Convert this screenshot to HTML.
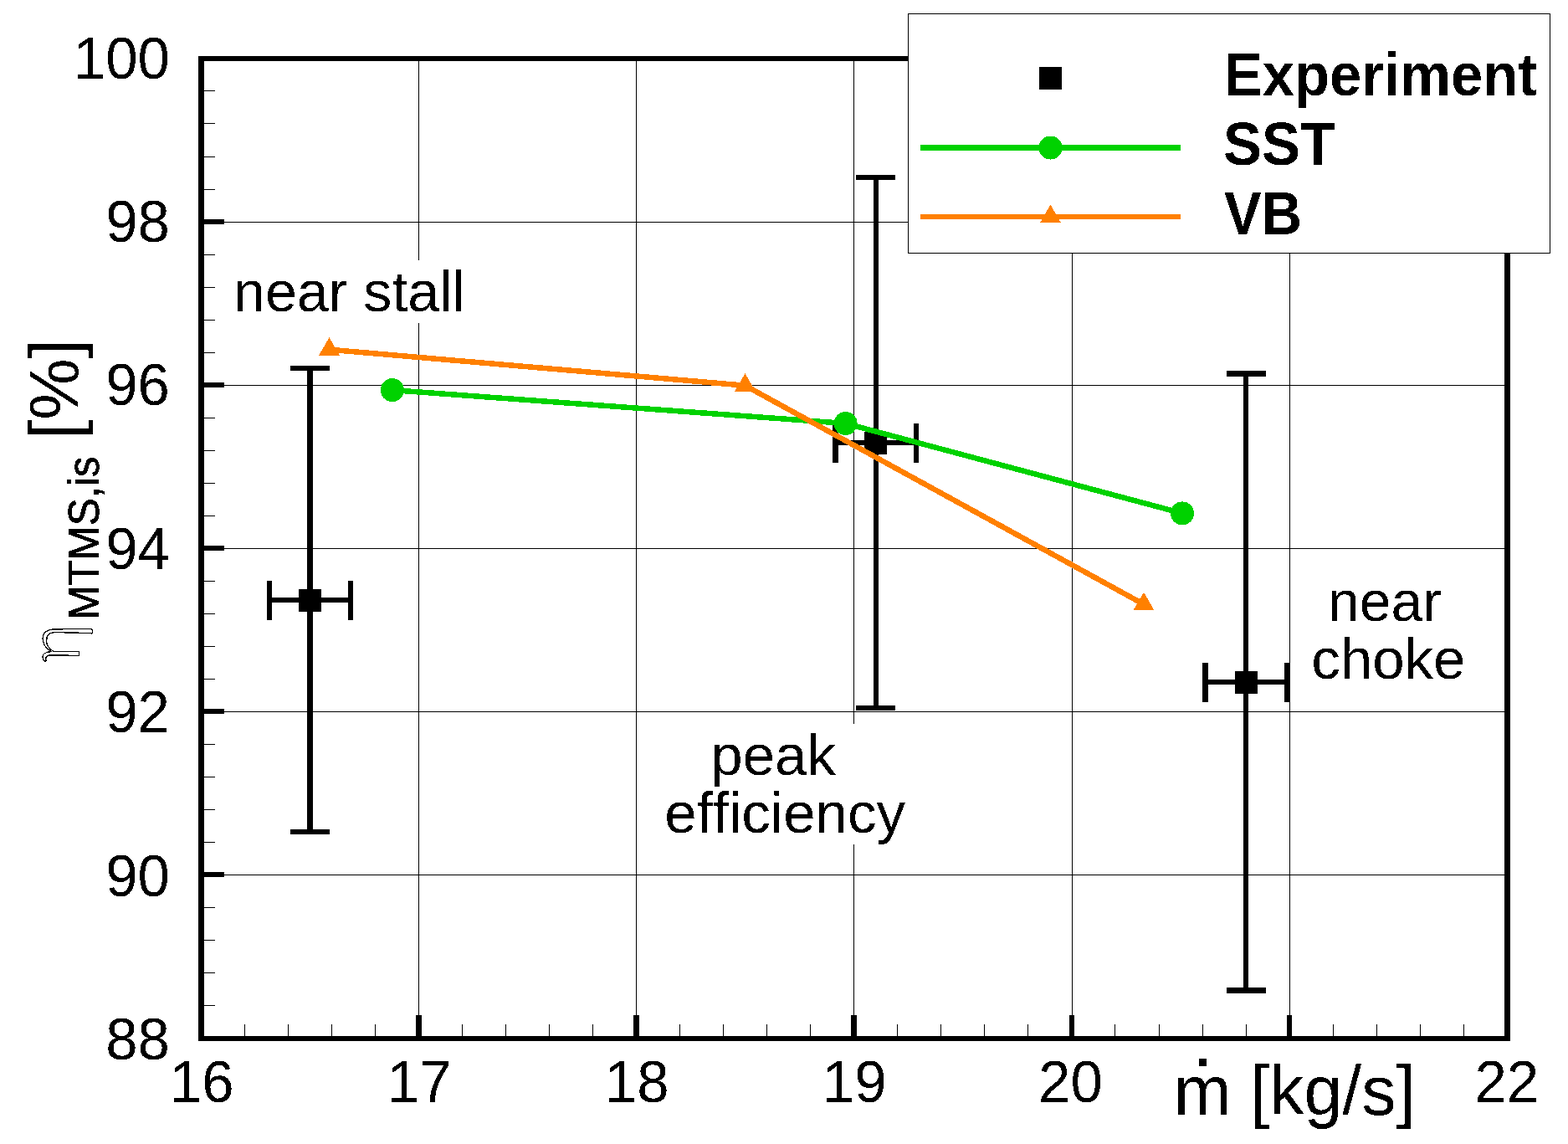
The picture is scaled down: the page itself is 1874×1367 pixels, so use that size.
<!DOCTYPE html>
<html lang="en"><head><meta charset="utf-8"><title>Isentropic efficiency over mass flow</title>
<style>html,body{margin:0;padding:0;background:#fff}body{width:1874px;height:1367px}svg{display:block}text{font-family:"Liberation Sans",sans-serif;fill:#000;font-kerning:none;font-variant-ligatures:none}.crisp{shape-rendering:crispEdges}</style></head><body>
<svg width="1874" height="1367" viewBox="0 0 1874 1367">
<defs><filter id="hard" x="0" y="0" width="1874" height="1367" filterUnits="userSpaceOnUse" color-interpolation-filters="sRGB"><feComponentTransfer><feFuncA type="discrete" tableValues="0 1"/></feComponentTransfer></filter><filter id="hard2" x="-0.2" y="-0.2" width="1.4" height="1.4" filterUnits="objectBoundingBox" color-interpolation-filters="sRGB"><feComponentTransfer><feFuncA type="discrete" tableValues="0 1 1"/></feComponentTransfer></filter></defs>
<rect width="1874" height="1367" fill="#fff"/>
<g class="crisp">
<rect x="500" y="73" width="1" height="1165" fill="#000"/>
<rect x="760" y="73" width="1" height="1165" fill="#000"/>
<rect x="1020" y="73" width="1" height="1165" fill="#000"/>
<rect x="1281" y="73" width="1" height="1165" fill="#000"/>
<rect x="1541" y="73" width="1" height="1165" fill="#000"/>
<rect x="244" y="265" width="1554" height="1" fill="#000"/>
<rect x="244" y="460" width="1554" height="1" fill="#000"/>
<rect x="244" y="655" width="1554" height="1" fill="#000"/>
<rect x="244" y="850" width="1554" height="1" fill="#000"/>
<rect x="244" y="1045" width="1554" height="1" fill="#000"/>
</g>
<g class="crisp">
<rect x="272" y="311" width="292" height="75" fill="#fff"/>
<rect x="786" y="865" width="308" height="144" fill="#fff"/>
<rect x="1560" y="681" width="200" height="144" fill="#fff"/>
</g>
<g class="crisp">
<rect x="237" y="67" width="1568" height="6" fill="#000"/>
<rect x="237" y="1238" width="1568" height="6" fill="#000"/>
<rect x="237" y="67" width="7" height="1177" fill="#000"/>
<rect x="1798" y="67" width="7" height="1177" fill="#000"/>
<rect x="497" y="1213" width="7" height="25" fill="#000"/>
<rect x="757" y="1213" width="7" height="25" fill="#000"/>
<rect x="1017" y="1213" width="7" height="25" fill="#000"/>
<rect x="1278" y="1213" width="6" height="25" fill="#000"/>
<rect x="1538" y="1213" width="6" height="25" fill="#000"/>
<rect x="292" y="1224" width="1" height="14" fill="#000"/>
<rect x="344" y="1224" width="1" height="14" fill="#000"/>
<rect x="396" y="1224" width="1" height="14" fill="#000"/>
<rect x="448" y="1224" width="1" height="14" fill="#000"/>
<rect x="552" y="1224" width="1" height="14" fill="#000"/>
<rect x="604" y="1224" width="1" height="14" fill="#000"/>
<rect x="656" y="1224" width="1" height="14" fill="#000"/>
<rect x="708" y="1224" width="1" height="14" fill="#000"/>
<rect x="812" y="1224" width="1" height="14" fill="#000"/>
<rect x="864" y="1224" width="1" height="14" fill="#000"/>
<rect x="916" y="1224" width="1" height="14" fill="#000"/>
<rect x="968" y="1224" width="1" height="14" fill="#000"/>
<rect x="1072" y="1224" width="1" height="14" fill="#000"/>
<rect x="1124" y="1224" width="1" height="14" fill="#000"/>
<rect x="1176" y="1224" width="1" height="14" fill="#000"/>
<rect x="1228" y="1224" width="1" height="14" fill="#000"/>
<rect x="1332" y="1224" width="1" height="14" fill="#000"/>
<rect x="1385" y="1224" width="1" height="14" fill="#000"/>
<rect x="1437" y="1224" width="1" height="14" fill="#000"/>
<rect x="1489" y="1224" width="1" height="14" fill="#000"/>
<rect x="1593" y="1224" width="1" height="14" fill="#000"/>
<rect x="1645" y="1224" width="1" height="14" fill="#000"/>
<rect x="1697" y="1224" width="1" height="14" fill="#000"/>
<rect x="1749" y="1224" width="1" height="14" fill="#000"/>
<rect x="244" y="262" width="24" height="6" fill="#000"/>
<rect x="244" y="457" width="24" height="6" fill="#000"/>
<rect x="244" y="652" width="24" height="6" fill="#000"/>
<rect x="244" y="847" width="24" height="6" fill="#000"/>
<rect x="244" y="1042" width="24" height="6" fill="#000"/>
<rect x="244" y="108" width="13" height="1" fill="#000"/>
<rect x="244" y="147" width="13" height="1" fill="#000"/>
<rect x="244" y="187" width="13" height="1" fill="#000"/>
<rect x="244" y="226" width="13" height="1" fill="#000"/>
<rect x="244" y="304" width="13" height="1" fill="#000"/>
<rect x="244" y="343" width="13" height="1" fill="#000"/>
<rect x="244" y="382" width="13" height="1" fill="#000"/>
<rect x="244" y="421" width="13" height="1" fill="#000"/>
<rect x="244" y="499" width="13" height="1" fill="#000"/>
<rect x="244" y="538" width="13" height="1" fill="#000"/>
<rect x="244" y="577" width="13" height="1" fill="#000"/>
<rect x="244" y="616" width="13" height="1" fill="#000"/>
<rect x="244" y="694" width="13" height="1" fill="#000"/>
<rect x="244" y="733" width="13" height="1" fill="#000"/>
<rect x="244" y="772" width="13" height="1" fill="#000"/>
<rect x="244" y="811" width="13" height="1" fill="#000"/>
<rect x="244" y="889" width="13" height="1" fill="#000"/>
<rect x="244" y="928" width="13" height="1" fill="#000"/>
<rect x="244" y="967" width="13" height="1" fill="#000"/>
<rect x="244" y="1006" width="13" height="1" fill="#000"/>
<rect x="244" y="1084" width="13" height="1" fill="#000"/>
<rect x="244" y="1123" width="13" height="1" fill="#000"/>
<rect x="244" y="1162" width="13" height="1" fill="#000"/>
<rect x="244" y="1201" width="13" height="1" fill="#000"/>
</g>
<g class="crisp">
<rect x="367" y="437" width="7" height="560" fill="#000"/>
<rect x="347.0" y="437" width="47.0" height="6" fill="#000"/>
<rect x="347.0" y="991" width="47.0" height="6" fill="#000"/>
<rect x="319" y="714" width="103" height="6" fill="#000"/>
<rect x="319" y="694.0" width="6" height="47.0" fill="#000"/>
<rect x="416" y="694.0" width="6" height="47.0" fill="#000"/>
<rect x="357.0" y="704.0" width="27.0" height="27.0" fill="#000"/>
<rect x="1044" y="209" width="6" height="640" fill="#000"/>
<rect x="1023.0" y="209" width="47.0" height="6" fill="#000"/>
<rect x="1023.0" y="843" width="47.0" height="6" fill="#000"/>
<rect x="995" y="526" width="103" height="6" fill="#000"/>
<rect x="995" y="506.0" width="7" height="47.0" fill="#000"/>
<rect x="1092" y="506.0" width="6" height="47.0" fill="#000"/>
<rect x="1033.0" y="516.0" width="27.0" height="27.0" fill="#000"/>
<rect x="1486" y="443" width="6" height="744" fill="#000"/>
<rect x="1466.0" y="443" width="47.0" height="7" fill="#000"/>
<rect x="1466.0" y="1180" width="47.0" height="7" fill="#000"/>
<rect x="1437" y="812" width="104" height="6" fill="#000"/>
<rect x="1437" y="792.0" width="7" height="47.0" fill="#000"/>
<rect x="1535" y="792.0" width="6" height="47.0" fill="#000"/>
<rect x="1476.0" y="802.0" width="27.0" height="27.0" fill="#000"/>
</g>
<g class="crisp">
<polyline fill="none" stroke="#00d200" stroke-width="6.5" stroke-linejoin="round" points="468.8,466.1 1010.6,506.0 1413.0,613.4"/>
<circle cx="468.8" cy="466.1" r="14" fill="#00d200"/>
<circle cx="1010.6" cy="506.0" r="14" fill="#00d200"/>
<circle cx="1413.0" cy="613.4" r="14" fill="#00d200"/>
</g>
<g class="crisp">
<polyline fill="none" stroke="#ff8000" stroke-width="6.5" stroke-linejoin="round" points="393.5,417.7 890.5,460.7 1367.0,722.1"/>
<polygon fill="#ff8000" points="393.5,403.3 406.1,425.0 380.9,425.0"/>
<polygon fill="#ff8000" points="890.5,446.3 903.1,468.0 877.9,468.0"/>
<polygon fill="#ff8000" points="1367.0,707.7 1379.6,729.4 1354.4,729.4"/>
</g>
<g class="crisp">
<rect x="1085" y="16" width="768" height="287" fill="#000"/>
<rect x="1086" y="17" width="766" height="285" fill="#fff"/>
<rect x="1242" y="80" width="27" height="27" fill="#000"/>
<rect x="1100" y="173" width="311" height="7" fill="#00d200"/>
<rect x="1100" y="256" width="311" height="6" fill="#ff8000"/>
</g>
<g class="crisp">
<circle cx="1255.5" cy="176.5" r="14" fill="#00d200"/>
<polygon fill="#ff8000" points="1255.5,244.6 1268.1,266.3 1242.9,266.3"/>
</g>
<g filter="url(#hard)">
<text x="1463" y="114" font-size="72.3" font-weight="bold" textLength="374" lengthAdjust="spacingAndGlyphs">Experiment</text>
<text x="1462" y="197" font-size="72.3" font-weight="bold" textLength="134" lengthAdjust="spacingAndGlyphs">SST</text>
<text x="1463" y="280" font-size="72.3" font-weight="bold" textLength="93" lengthAdjust="spacingAndGlyphs">VB</text>
<text x="203" y="93.6" font-size="70.5" text-anchor="end" textLength="115.14" lengthAdjust="spacingAndGlyphs">100</text>
<text x="203" y="289.0" font-size="70.5" text-anchor="end" textLength="76.76" lengthAdjust="spacingAndGlyphs">98</text>
<text x="203" y="484.4" font-size="70.5" text-anchor="end" textLength="76.76" lengthAdjust="spacingAndGlyphs">96</text>
<text x="203" y="679.8" font-size="70.5" text-anchor="end" textLength="76.76" lengthAdjust="spacingAndGlyphs">94</text>
<text x="203" y="875.2" font-size="70.5" text-anchor="end" textLength="76.76" lengthAdjust="spacingAndGlyphs">92</text>
<text x="203" y="1070.6" font-size="70.5" text-anchor="end" textLength="76.76" lengthAdjust="spacingAndGlyphs">90</text>
<text x="203" y="1266.0" font-size="70.5" text-anchor="end" textLength="76.76" lengthAdjust="spacingAndGlyphs">88</text>
<text x="241.2" y="1316.6" font-size="70.5" text-anchor="middle" textLength="76.76" lengthAdjust="spacingAndGlyphs">16</text>
<text x="501.2" y="1316.6" font-size="70.5" text-anchor="middle" textLength="76.76" lengthAdjust="spacingAndGlyphs">17</text>
<text x="761.2" y="1316.6" font-size="70.5" text-anchor="middle" textLength="76.76" lengthAdjust="spacingAndGlyphs">18</text>
<text x="1021.2" y="1316.6" font-size="70.5" text-anchor="middle" textLength="76.76" lengthAdjust="spacingAndGlyphs">19</text>
<text x="1279.5" y="1316.6" font-size="70.5" text-anchor="middle" textLength="76.76" lengthAdjust="spacingAndGlyphs">20</text>
<text x="1800.8" y="1316.6" font-size="70.5" text-anchor="middle" textLength="76.76" lengthAdjust="spacingAndGlyphs">22</text>
<text x="279" y="372" font-size="69" textLength="276.5" lengthAdjust="spacingAndGlyphs">near stall</text>
<text x="849.3" y="926" font-size="69">peak</text>
<text x="794.3" y="995" font-size="69">efficiency</text>
<text x="1587" y="741.6" font-size="69" textLength="136" lengthAdjust="spacingAndGlyphs">near</text>
<text x="1567.3" y="811" font-size="69">choke</text>
<text x="1402.7" y="1332" font-size="82.5">m<tspan x="1437.4" y="1340.2" font-size="110">&#x307;</tspan><tspan x="1471.4" y="1332"> [kg/s]</tspan></text>
<g transform="translate(94,0) rotate(-90)">
<text x="-793" y="0" font-size="82.5" filter="url(#hard2)" style="font-family:'Noto Serif CJK SC','DejaVu Sans Light','DejaVu Serif',serif;font-weight:200;fill:none;stroke:#000;stroke-width:1">η</text>
<text x="-741" y="24" font-size="51" textLength="195.5" lengthAdjust="spacingAndGlyphs" stroke="#000" stroke-width="0.6">MTMS,is</text>
<text x="-524.7" y="0" font-size="82.5">[%]</text>
</g>
</g>
</svg>
</body></html>
